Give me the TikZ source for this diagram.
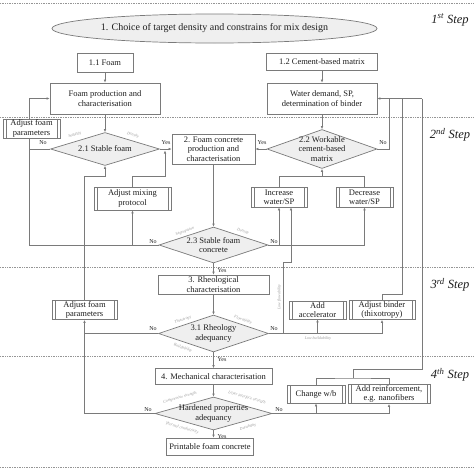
\documentclass[tikz,border=0pt]{standalone}
\usepackage{fontspec}
\setmainfont{Liberation Serif}
\usetikzlibrary{shapes.geometric,arrows.meta,calc,backgrounds}
\definecolor{lc}{HTML}{7A7A7A}
\definecolor{txt}{HTML}{1E1E1E}
\definecolor{dfill}{HTML}{EFEFEF}
\definecolor{lbl}{HTML}{9A9A9A}
\begin{document}
\begin{tikzpicture}[x=1pt,y=-1pt,
  every node/.style={text=txt},
  bx/.style={draw=lc, line width=0.7pt, fill=white, align=center, inner sep=1pt, font=\fontsize{8.5}{9.3}\selectfont},
  pbx/.style={bx, path picture={
     \draw[lc,line width=0.6pt] ([xshift=3pt]path picture bounding box.north west) -- ([xshift=3pt]path picture bounding box.south west);
     \draw[lc,line width=0.6pt] ([xshift=-3pt]path picture bounding box.north east) -- ([xshift=-3pt]path picture bounding box.south east);}},
  dia/.style={diamond, draw=lc, line width=0.7pt, fill=dfill, inner sep=0pt},
  dtxt/.style={align=center, font=\fontsize{8.5}{9.3}\selectfont, inner sep=0pt, text=txt},
  arr/.style={draw=lc, line width=0.7pt, -{Latex[length=3pt,width=2.6pt]}},
  conn/.style={draw=lc, line width=0.7pt},
  yn/.style={font=\fontsize{6}{6}\selectfont, inner sep=0.5pt},
  el/.style={font=\itshape\fontsize{4}{4}\selectfont, text=lbl, inner sep=0pt},
  stp/.style={font=\itshape\fontsize{12.5}{13}\selectfont, inner sep=0pt},
  sepline/.style={draw=lc!80, line width=0.6pt, dash pattern=on 0.7pt off 1pt}
]
\useasboundingbox[fill=white] (0,0) rectangle (474,474);

% step separators
\foreach \yy in {3,117,267,356,467} \draw[sepline] (0,\yy) -- (474,\yy);

% step labels
\node[stp] (s1) at (450,20) {1\textsuperscript{st} Step};
\node[stp] (s2) at (450,135) {2\textsuperscript{nd} Step};
\node[stp] (s3) at (450,285) {3\textsuperscript{rd} Step};
\node[stp] (s4) at (450,375) {4\textsuperscript{th} Step};

% nodes
\node[ellipse, draw=lc, line width=0.7pt, fill=dfill, inner sep=0pt, minimum width=325pt, minimum height=29pt,
      label={[dtxt, font=\fontsize{10}{11}\selectfont]center:1. Choice of target density and constrains for mix design}] (ell) at (214.5,28.5) {};
\node[bx, minimum width=56pt, minimum height=19pt] (f11) at (105,62.5) {1.1 Foam};
\node[bx, minimum width=110pt, minimum height=31pt] (fprod) at (105,98.5) {Foam production and\\characterisation};
\node[bx, minimum width=111pt, minimum height=17pt] (c12) at (322,61.5) {1.2 Cement-based matrix};
\node[bx, minimum width=110pt, minimum height=31pt] (wd) at (322,98.5) {Water demand, SP,\\determination of binder};

\node[pbx, minimum width=57pt, minimum height=18pt] (afp1) at (31.5,128.5) {Adjust foam\\parameters};
\node[dia, minimum width=109pt, minimum height=33pt, label={[dtxt]center:2.1 Stable foam}] (d21) at (105,149) {};
\node[bx, minimum width=83pt, minimum height=30pt] (fc2) at (213.5,149) {2. Foam concrete\\production and\\characterisation};
\node[dia, minimum width=110pt, minimum height=39pt, label={[dtxt]center:2.2 Workable\\cement-based\\matrix}] (d22) at (322,149) {};
\node[pbx, minimum width=77pt, minimum height=23pt] (amp) at (132.5,198.5) {Adjust mixing\\protocol};
\node[pbx, minimum width=56pt, minimum height=20pt] (inc) at (279,197) {Increase\\water/SP};
\node[pbx, minimum width=57pt, minimum height=20pt] (dec) at (364.5,197) {Decrease\\water/SP};
\node[dia, minimum width=109pt, minimum height=36pt, label={[dtxt]center:2.3 Stable foam\\concrete}] (d23) at (213.5,245) {};

\node[bx, minimum width=111pt, minimum height=19pt, inner sep=0.5pt] (rheo) at (213.5,284.5) {3. Rheological\\characterisation};
\node[pbx, minimum width=65pt, minimum height=18pt] (afp2) at (84.5,310) {Adjust foam\\parameters};
\node[pbx, minimum width=57pt, minimum height=18pt] (acc) at (317.5,310) {Add\\accelerator};
\node[pbx, minimum width=66pt, minimum height=18pt] (abind) at (382,310) {Adjust binder\\(thixotropy)};
\node[dia, minimum width=110pt, minimum height=37pt, label={[dtxt]center:3.1 Rheology\\adequancy}] (d31) at (213.5,333.5) {};

\node[bx, minimum width=117pt, minimum height=16pt] (mech) at (213.5,376.5) {4. Mechanical characterisation};
\node[dia, minimum width=117pt, minimum height=33pt, label={[dtxt]center:Hardened properties\\adequancy}] (dh) at (213.5,413.5) {};
\node[bx, minimum width=87pt, minimum height=17pt] (print) at (210,446.5) {Printable foam concrete};
\node[pbx, minimum width=58pt, minimum height=18pt] (cwb) at (316,394) {Change w/b};
\node[pbx, minimum width=82pt, minimum height=18pt] (arf) at (389,394) {Add reinforcement,\\e.g. nanofibers};

% helper coordinates
\coordinate (fbR) at (422,98.5);
\coordinate (fbA) at (389,98.5);
\coordinate (fbB) at (402,98.5);
\coordinate (j1) at (165,150.5);
\coordinate (j176) at (0,176);
\coordinate (m4) at (353,378);
\coordinate (lf1) at (283,262);
\coordinate (lf2) at (291,262);
\coordinate (aN) at ([xshift=-2.5pt]afp1.north);
\coordinate (aS) at ([xshift=-2.5pt]afp1.south);

% connectors
\begin{scope}[on background layer]
\draw[arr] (f11.north |- ell.center) -- (f11.north);
\draw[arr] (c12.north |- ell.center) -- (c12.north);
\end{scope}
\draw[arr] (f11) -- (fprod);
\draw[arr] (c12) -- (wd);
\draw[arr] (fprod) -- (d21);
\draw[arr] (wd) -- (d22);
\draw[arr] (aN) |- (fprod.west);
\draw[conn] (d21.west) -- (d21.west -| aS);
\draw[conn] (d23.west) -| (aS);
\draw[arr] (d21.east) -- (fc2.west);
\draw[arr] (amp.north) |- (j1 |- j176) -- (j1);
\draw[arr] (amp.south |- d23.west) -- (amp.south);
\draw[arr] (afp2.north) |- (d21.south |- j176) -- (d21.south);
\draw[conn] (d31.west) -- (d31.west -| afp2.south);
\draw[arr] (dh.west) -| (afp2.south);
\draw[arr] (d22.west) -- (fc2.east);
\draw[conn] (d22.east) -| (fbA);
\draw[arr] (fbR) -- (wd.east);
\draw[conn] (inc.north) |- (dec.north |- j176) -- (dec.north);
\draw[arr] (d22.south |- j176) -- (d22.south);
\draw[arr] (d23.east) -| (dec.south);
\draw[arr] (inc.south |- d23.east) -- (inc.south);
\draw[arr] (fc2) -- (d23);
\draw[arr] (d23) -- (rheo);
\draw[arr] (rheo) -- (d31);
\draw[arr] (d31) -- (mech);
\draw[arr] (mech) -- (dh);
\draw[arr] (dh.south) -- (dh.south |- print.north);
\draw[arr] (d31.east) -| (abind.south);
\draw[arr] (acc.south |- d31.east) -- (acc.south);
\draw[arr] (lf1 |- d31.east) -- (lf1) -- (lf2) -- (lf2 |- inc.south);
\draw[conn] (abind.north) -- ++(0,-6) -| (fbB);
\draw[arr] (dh.east) -| (arf.south);
\draw[arr] (cwb.south |- dh.east) -- (cwb.south);
\draw[conn] (cwb.north) |- (m4) -| (arf.north);
\draw[conn] (m4) |- (422,369) -- (fbR);

% Yes / No labels
\node[yn] (n21) at (43,143) {No};
\node[yn] (y21) at (166,143) {Yes};
\node[yn] (y22) at (262,143) {Yes};
\node[yn] (n22) at (383,143) {No};
\node[yn] (n23l) at (153,242) {No};
\node[yn] (n23r) at (274,242) {No};
\node[yn] (y23) at (222,271) {Yes};
\node[yn] (n31l) at (153,329) {No};
\node[yn] (n31r) at (274,329) {No};
\node[yn] (y31) at (222,360) {Yes};
\node[yn] (nhl) at (148,410) {No};
\node[yn] (nhr) at (279,410) {No};
\node[yn] (yh) at (222,437) {Yes};

% edge labels
\node[el, rotate=16.8] (e1) at (75,135) {Stability};
\node[el, rotate=-16.8] (e2) at (133,135) {Density};
\node[el, rotate=18.3] (e3) at (185,231.5) {Segregation};
\node[el, rotate=-18.3] (e4) at (243,231.5) {Density};
\node[el, rotate=18.6] (e5) at (183,320) {Thixotropy};
\node[el, rotate=-18.6] (e6) at (243,320) {Flowability};
\node[el, rotate=-18.6] (e7) at (183,348) {Buildability};
\node[el, rotate=15.7] (e8) at (180,397.5) {Compressive strength};
\node[el, rotate=-15.7] (e9) at (247,397.5) {Layer interface strength};
\node[el, rotate=-15.7] (e10) at (182,428) {Thermal conductivity};
\node[el, rotate=15.7] (e11) at (248,427) {Durability};
\node[el, rotate=90] (e12) at (279.5,297) {Low flowability};
\node[el] (e13) at (318,339) {Low buildability};
\end{tikzpicture}
\end{document}
